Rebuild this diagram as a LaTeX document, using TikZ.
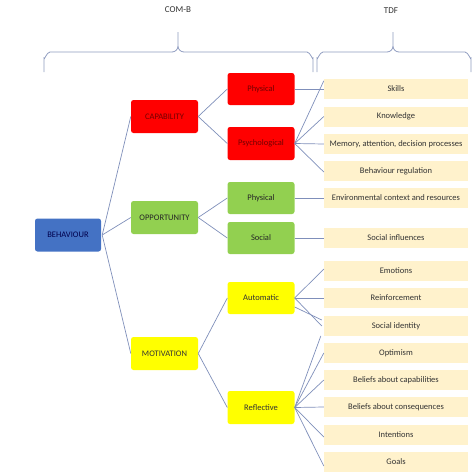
\documentclass[tikz,border=0pt]{standalone}
\usepackage{fontspec}
\setmainfont{Carlito}
\definecolor{linec}{HTML}{7F8FBA}
\definecolor{bluef}{HTML}{4472C4}
\definecolor{redf}{HTML}{FF0000}
\definecolor{greenf}{HTML}{92D050}
\definecolor{yellowf}{HTML}{FFFF00}
\definecolor{tdff}{HTML}{FFF2CC}
\definecolor{bracec}{HTML}{8E9BBF}
\tikzset{
  cbox/.style={rounded corners=2.5pt, minimum width=67pt, minimum height=33pt, inner sep=0pt, font=\fontsize{8.5}{9}\selectfont},
  blueb/.style={cbox, fill=bluef, text=blue!30!black},
  redb/.style={cbox, fill=redf, text=red!45!black},
  greenb/.style={cbox, fill=greenf, text=black!85},
  yellowb/.style={cbox, fill=yellowf, text=black!80},
  tdfbox/.style={fill=tdff, minimum width=144pt, minimum height=20pt, inner sep=0pt, text=black!80, font=\fontsize{8.5}{9}\selectfont},
  conn/.style={draw=linec, line width=0.7pt},
  bracel/.style={draw=bracec, line width=0.8pt},
  lab/.style={font=\fontsize{9}{10}\selectfont, text=black!80}
}
\begin{document}
\begin{tikzpicture}[x=1pt,y=-1pt]
\useasboundingbox (0,0) rectangle (474,474);
% braces
\draw[bracel] (44,72) -- (44,58) to[out=-90,in=180] (50,52) -- (172,52) to[out=0,in=-90] (178,46) -- (178,32)
  (178,46) to[out=-90,in=180] (184,52) -- (307,52) to[out=0,in=-90] (313,58) -- (313,72);
\draw[bracel] (317,72) -- (317,58) to[out=-90,in=180] (323,52) -- (387,52) to[out=0,in=-90] (393,46) -- (393,32)
  (393,46) to[out=-90,in=180] (399,52) -- (465,52) to[out=0,in=-90] (471,58) -- (471,72);
\node[lab] (comb) at (178,10) {COM-B};
\node[lab] (tdf) at (391,11) {TDF};
% COM-B nodes
\node[blueb, minimum width=66pt] (beh) at (68,235) {BEHAVIOUR};
\node[redb] (cap) at (164.5,116.5) {CAPABILITY};
\node[greenb] (opp) at (164.5,217.5) {OPPORTUNITY};
\node[yellowb] (mot) at (164.5,353.5) {MOTIVATION};
\node[redb, minimum height=32pt] (phy) at (261,89) {Physical};
\node[redb] (psy) at (261,143.5) {Psychological};
\node[greenb, minimum height=32pt] (gphy) at (261,198) {Physical};
\node[greenb, minimum height=32pt] (soc) at (261,238) {Social};
\node[yellowb, minimum height=32pt] (aut) at (261,298) {Automatic};
\node[yellowb] (ref) at (261,407.5) {Reflective};
% TDF nodes
\node[tdfbox] (t1) at (396,89) {Skills};
\node[tdfbox] (t2) at (396,116.5) {Knowledge};
\node[tdfbox] (t3) at (396,144) {Memory, attention, decision processes};
\node[tdfbox] (t4) at (396,171) {Behaviour regulation};
\node[tdfbox] (t5) at (396,198) {Environmental context and resources};
\node[tdfbox] (t6) at (396,238) {Social influences};
\node[tdfbox] (t7) at (396,271) {Emotions};
\node[tdfbox] (t8) at (396,298) {Reinforcement};
\node[tdfbox] (t9) at (396,326) {Social identity};
\node[tdfbox] (t10) at (396,353) {Optimism};
\node[tdfbox] (t11) at (396,380) {Beliefs about capabilities};
\node[tdfbox] (t12) at (396,407) {Beliefs about consequences};
\node[tdfbox] (t13) at (396,435) {Intentions};
\node[tdfbox] (t14) at (396,462) {Goals};
% connectors
\draw[conn] ([xshift=1pt]beh.east) -- (cap.west);
\draw[conn] ([xshift=1pt]beh.east) -- (opp.west);
\draw[conn] ([xshift=1pt]beh.east) -- (mot.west);
\draw[conn] (cap.east) -- (phy.west);
\draw[conn] (cap.east) -- (psy.west);
\draw[conn] (opp.east) -- (gphy.west);
\draw[conn] (opp.east) -- (soc.west);
\draw[conn] (mot.east) -- (aut.west);
\draw[conn] (mot.east) -- (ref.west);
\draw[conn] (phy.east) -- (t1.west);
\draw[conn] (psy.east) -- ([yshift=-2pt]t1.north west);
\draw[conn] (psy.east) -- (t2.west);
\draw[conn] (psy.east) -- (t3.west);
\draw[conn] (psy.east) -- ([yshift=-1pt]t4.west);
\draw[conn] (gphy.east) -- (t5.west);
\draw[conn] (soc.east) -- (t6.west);
\draw[conn] (aut.east) -- ([yshift=2pt]t7.west);
\draw[conn] (aut.east) -- (t8.west);
\draw[conn] ([yshift=-9pt]aut.east) -- ([xshift=-2pt,yshift=6pt]t9.west);
\draw[conn] (aut.east) -- ([xshift=-2pt]t9.west);
\draw[conn] (ref.east) -- ([xshift=-3pt,yshift=-10pt]t9.west);
\draw[conn] (ref.east) -- (t10.west);
\draw[conn] (ref.east) -- (t11.west);
\draw[conn] (ref.east) -- (t12.west);
\draw[conn] (ref.east) -- ([yshift=-2pt]t13.west);
\draw[conn] (ref.east) -- ([yshift=-4pt]t14.west);
\end{tikzpicture}
\end{document}
